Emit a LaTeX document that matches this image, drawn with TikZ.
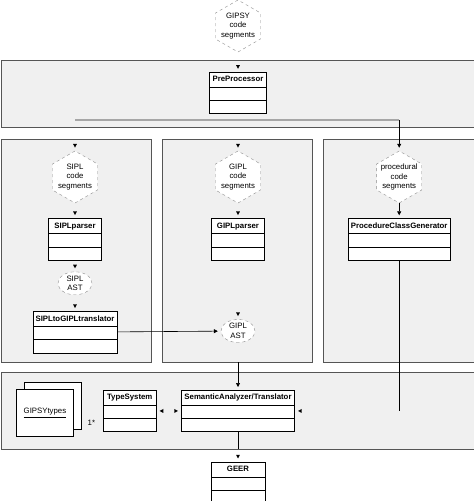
\documentclass[tikz,border=0pt]{standalone}
\usepackage{fontspec}
\setmainfont{Liberation Sans}
\usetikzlibrary{shapes.geometric,shapes.multipart,arrows.meta}
\definecolor{panelgray}{RGB}{240,240,240}
\definecolor{panelline}{RGB}{85,85,85}
\newcommand{\segfont}{\fontsize{7.8}{9.7}\selectfont}

\begin{document}
\begin{tikzpicture}[x=1pt, y=-1pt,
	panel/.style={draw=panelline, fill=panelgray, line width=1pt, inner sep=0pt, outer sep=0pt, anchor=north west},
	umlclass/.style={draw, fill=white, line width=0.6pt, rectangle split, rectangle split parts=3,
		rectangle split ignore empty parts=false, rectangle split empty part height=6pt,
		rectangle split empty part depth=0pt, text height=6pt, text depth=2pt,
		inner ysep=3.25pt, inner xsep=1pt, font=\segfont\bfseries, anchor=north},
	segments/.style={regular polygon, regular polygon sides=6, shape border rotate=30,
		minimum size=52pt, inner sep=0pt, draw=black!45, dashed, fill=white},
	ast/.style={ellipse, minimum width=34pt, minimum height=23pt, inner sep=0pt,
		draw=black!45, dashed, fill=white},
	txt/.style={align=center, font=\segfont},
	conn/.style={line width=0.6pt, shorten >=3pt, -{Triangle[length=4pt,width=4pt]}},
	ghost/.style={line width=0.6pt, shorten >=2.6pt, draw opacity=0, -{Triangle[length=4.6pt,width=4.8pt]}},
	ghostline/.style={line width=0.6pt, draw opacity=0},
	busline/.style={line width=1.4pt, draw=black!35}]
	\useasboundingbox (0,0) rectangle (474,501);

	\node[panel, minimum width=479pt, minimum height=67pt] (toppanel) at (1,60.5) {};
	\node[panel, minimum width=150.7pt, minimum height=222.7pt] (leftpanel) at (1,139.3) {};
	\node[panel, minimum width=150.4pt, minimum height=222.7pt] (midpanel) at (162.3,139.3) {};
	\node[panel, minimum width=160pt, minimum height=222.7pt] (rightpanel) at (323.3,139.3) {};
	\node[panel, minimum width=479pt, minimum height=76.5pt] (botpanel) at (1,372.7) {};

	\node[segments, label={[txt]center:GIPSY\\code\\segments}] (gipsy) at (238,26) {};
	\node[umlclass, minimum width=56.5pt] (pre) at (238,72) {PreProcessor};
	\coordinate (bus) at (238,120);

	\node[segments, label={[txt]center:SIPL\\code\\segments}] (sipl) at (75,177) {};
	\node[segments, label={[txt]center:GIPL\\code\\segments}] (gipl) at (238,177) {};
	\node[segments, label={[txt]center:procedural\\code\\segments}] (proc) at (399.2,177) {};
	\node[umlclass, minimum width=53.3pt] (siplparser) at (75,218.3) {SIPLparser};
	\node[umlclass, minimum width=53.3pt] (giplparser) at (238,218.3) {GIPLparser};
	\node[umlclass, minimum width=101.7pt] (pcg) at (399.2,218.3) {ProcedureClassGenerator};
	\node[ast, label={[txt]center:SIPL\\AST}] (sast) at (75,283.3) {};
	\node[umlclass, minimum width=84.4pt] (translator) at (75,311.25) {SIPLtoGIPLtranslator};
	\node[ast, label={[txt]center:GIPL\\AST}] (gast) at (238,331) {};

	\node[draw, fill=white, line width=0.6pt, minimum width=56.7pt, minimum height=47pt, anchor=north west] (typesback) at (24.3,382) {};
	\node[draw, fill=white, line width=0.6pt, minimum width=57.3pt, minimum height=47.3pt, anchor=north west, font=\segfont] (types) at (16,389) {\underline{GIPSYtypes}};
	\node[umlclass, minimum width=52.7pt] (typesys) at (129.7,390) {TypeSystem};
	\node[umlclass, minimum width=113pt] (sa) at (238,390) {SemanticAnalyzer/Translator};
	\node[umlclass, minimum width=53.6pt] (geer) at (238,461.7) {GEER};

	\draw[ghost] (gipsy) -- (pre);
	\draw[ghostline] (pre) -- (bus);
	\draw[busline] (sipl |- bus) -- (proc |- bus);
	\draw[ghost] (sipl |- bus) -- (sipl);
	\draw[ghost] (gipl |- bus) -- (gipl);
	\draw[conn] (proc |- bus) -- (proc);

	\draw[ghost] (sipl) -- (siplparser);
	\draw[ghost] (siplparser) -- (sast);
	\draw[ghost] (sast) -- (translator);
	\draw[conn] (translator) -- (gast);
	\draw[ghost] (gipl) -- (giplparser);
	\draw[ghost] (giplparser) -- (gast);
	\draw[conn] (proc) -- (pcg);

	\draw[ghostline] (gast) -- (sa |- midpanel.south);
	\draw[conn] (sa |- midpanel.south) -- (sa);
	\draw[line width=0.6pt] (pcg) -- (pcg |- sa);
	\draw[ghost] (pcg |- sa) -- (sa);
	\draw[ghost, {Triangle[length=4.6pt,width=4.8pt]}-{Triangle[length=4.6pt,width=4.8pt]}, shorten <=2.6pt] (typesys) -- (sa);
	\draw[ghostline] (types) -- node[pos=0.6, below=5pt, font=\segfont] (mult) {1*} (typesys);
	\draw[line width=0.6pt] (sa) -- (sa |- botpanel.south);
	\draw[ghost] (sa |- botpanel.south) -- (geer);
\end{tikzpicture}
\end{document}
